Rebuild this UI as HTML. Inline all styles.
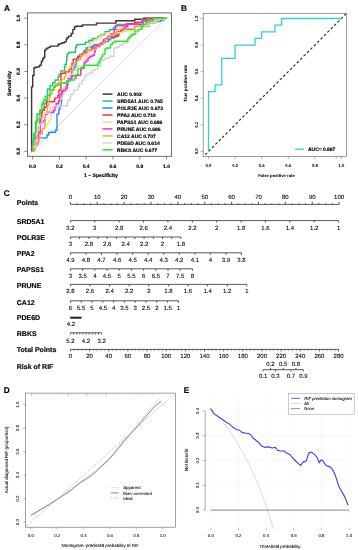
<!DOCTYPE html><html><head><meta charset="utf-8"><style>html,body{margin:0;padding:0;background:#fff;}svg{display:block;text-rendering:geometricPrecision;filter:blur(0.3px);}</style></head><body>
<svg width="358" height="550" viewBox="0 0 358 550" style="font-family:'Liberation Sans', Arial, sans-serif">
<rect width="358" height="550" fill="#fff"/>
<text x="4" y="10.9" font-size="8.2" text-anchor="start" font-weight="bold" fill="#000" stroke="#000" stroke-width="0.15">A</text>
<clipPath id="clipA"><rect x="27.5" y="13" width="144.5" height="143.3"/></clipPath>
<g clip-path="url(#clipA)">
<line x1="27.24" y1="156.62" x2="171.86" y2="12.88" stroke="#c8c8c8" stroke-width="0.7"/>
<polyline points="31.6,151.6 31.6,86.9 31.6,86.9 31.6,86.9 32.7,86.9 32.7,75.5 32.7,75.5 32.7,75.5 34,75.5 34,69.5 34,69.5 34,68 35.1,68 35.1,67.3 37.6,67.3 37.6,66.9 39.5,66.9 39.5,65.5 40.2,65.5 40.2,65.1 41.3,65.1 41.3,62.2 41.6,62.2 41.6,61.1 42.7,61.1 42.7,58.8 43.7,58.8 43.7,57.4 44.7,57.4 44.7,51.4 45,51.4 45,50.1 45.7,50.1 45.7,49.1 47,49.1 47,48.1 48.4,48.1 48.4,47.4 50.1,47.4 50.1,46.4 50.7,46.4 50.7,46.1 58.1,46.1 58.1,44.7 58.8,44.7 58.8,44 60.1,44 60.1,43.6 62,43.6 62,42.8 64.5,42.8 64.5,41.9 66.2,41.9 66.2,39.4 67,39.4 67,37.7 68.7,37.7 68.7,36.1 71.2,36.1 71.2,33.5 72.9,33.5 72.9,29.4 74.6,29.4 74.6,26.8 76.2,26.8 76.2,26.3 77.5,26.3 77.5,26.3 82.5,26.3 82.5,24.9 82.5,24.9 82.5,24.9 96.5,24.9 96.5,23.1 96.5,23.1 96.5,23.1 115.9,23.1 115.9,20.7 115.9,20.7 115.9,20.7 134.8,20.7 134.8,19.3 134.8,19.3 134.8,19.3 143.6,19.3 143.6,18.2 143.6,18.2 143.6,18.2 166.5,18.2" fill="none" stroke="#453333" stroke-width="1.4" stroke-linejoin="miter"/>
<polyline points="32.6,151.3 32.6,143 33.5,143 33.5,134 35.5,134 35.5,122 37,122 37,114 40,114 40,110 44,110 44,103.8 46.1,103.8 46.1,100 47.5,100 47.5,90 47.5,90 47.5,89 50,89 50,85.5 52.7,85.5 52.7,82.7 55,82.7 55,80 58.2,80 58.2,76.8 59.1,76.8 59.1,74.5 60.9,74.5 60.9,71.4 61.4,71.4 61.4,70.9 64.5,70.9 64.5,67.3 65,67.3 65,64.5 66.4,64.5 66.4,60.5 66.8,60.5 66.8,56.4 67.3,56.4 67.3,53.6 68.6,53.6 68.6,52.7 69.5,52.7 69.5,52.3 75.5,52.3 75.5,47.3 76.4,47.3 76.4,45 77.3,45 77.3,44.5 80,44.5 80,44.4 85.3,44.4 85.3,42.5 85.7,42.5 85.7,42.1 88.9,42.1 88.9,40.7 89.8,40.7 89.8,40.3 92.5,40.3 92.5,38.5 98,38.5 98,36.5 101,36.5 101,34.8 104.4,34.8 104.4,34.4 105,34.4 105,31.6 109.5,31.6 109.5,29.8 113.2,29.8 113.2,28 115,28 115,26.2 115.9,26.2 115.9,25.5 116.4,25.5 116.4,25.5 116.4,25.5 116.4,25.2 117.1,25.2 117.1,24.5 130,24.5 130,23.6 141.8,23.6 141.8,20 154.9,20 154.9,18.2 166.5,18.2" fill="none" stroke="#18c878" stroke-width="1.4" stroke-linejoin="miter"/>
<polyline points="32.6,151.3 32.6,148 35,148 35,143.6 38.2,143.6 38.2,137.9 39.9,137.9 39.9,137.9 47,137.9 47,135 48.5,135 48.5,132.7 49.9,132.7 49.9,132.2 55.6,132.2 55.6,130.3 57,130.3 57,117 57,117 57,114.2 58.4,114.2 58.4,113.5 58.9,113.5 58.9,109 60.1,109 60.1,105.7 61.2,105.7 61.2,101.2 61.7,101.2 61.7,94.5 62.8,94.5 62.8,91.2 63.4,91.2 63.4,88.9 64.5,88.9 64.5,87.3 66.8,87.3 66.8,80.9 68.2,80.9 68.2,78.2 70.9,78.2 70.9,75.5 71.8,75.5 71.8,71.8 72.7,71.8 72.7,70 74.1,70 74.1,67.3 75.5,67.3 75.5,64.1 76.4,64.1 76.4,59.5 77.3,59.5 77.3,58 78,58 78,57.1 79.8,57.1 79.8,54.4 82.1,54.4 82.1,53.5 84,53.5 84,50.7 86.2,50.7 86.2,48 88,48 88,47.1 91.6,47.1 91.6,46.2 93.9,46.2 93.9,44.8 97.1,44.8 97.1,44.4 100.7,44.4 100.7,43.5 102.5,43.5 102.5,42.5 105,42.5 105,41.6 108.6,41.6 108.6,39.8 110.5,39.8 110.5,38 114.1,38 114.1,35 118,35 118,31.6 121.4,31.6 121.4,29.8 124.1,29.8 124.1,29.4 134.5,29.4 134.5,25.8 140.3,25.8 140.3,23.6 146.1,23.6 146.1,22.9 154.9,22.9 154.9,21.4 160.7,21.4 160.7,20 163.6,20 163.6,18.2 166.5,18.2" fill="none" stroke="#1e90ff" stroke-width="1.4" stroke-linejoin="miter"/>
<polyline points="32.6,151.3 32.6,150.2 34.7,150.2 34.7,136.9 36.6,136.9 36.6,136 39,136 39,127.5 39.5,127.5 39.5,121.8 40.4,121.8 40.4,118.9 41.8,118.9 41.8,112.3 42.3,112.3 42.3,110.4 44.2,110.4 44.2,107.6 45.2,107.6 45.2,107.1 46.6,107.1 46.6,101.8 48,101.8 48,101.8 54.5,101.8 54.5,99.6 55,99.6 55,97.9 57.8,97.9 57.8,95.6 58.9,95.6 58.9,90 60.9,90 60.9,75.5 60.9,75.5 60.9,73.6 62.7,73.6 62.7,73.2 65,73.2 65,72.3 65.9,72.3 65.9,71.8 69.5,71.8 69.5,69.5 71.4,69.5 71.4,66.4 71.8,66.4 71.8,63.6 73.2,63.6 73.2,59.5 73.2,59.5 73.2,59.1 76.4,59.1 76.4,59.1 78,59.1 78,56.2 81.6,56.2 81.6,54.4 83.5,54.4 83.5,52.5 86.2,52.5 86.2,51.6 88,51.6 88,49.8 91.6,49.8 91.6,48 96.2,48 96.2,46.2 99.8,46.2 99.8,43.5 103.5,43.5 103.5,40.7 105.3,40.7 105.3,38.9 108,38.9 108,37 111.5,37 111.5,37 115.9,37 115.9,36.2 118.6,36.2 118.6,34.4 119.1,34.4 119.1,31.6 120.9,31.6 120.9,29.8 123.2,29.8 123.2,28 125.9,28 125.9,26.6 127.7,26.6 127.7,23.6 134.5,23.6 134.5,22.2 141.8,22.2 141.8,21.4 146.1,21.4 146.1,18.5 154.9,18.5 154.9,18.2 166.5,18.2" fill="none" stroke="#ff3030" stroke-width="1.4" stroke-linejoin="miter"/>
<polyline points="32.6,151.3 36,146 39,139 41.4,132.2 45.6,126.5 48.9,121.8 51.1,118 52.2,110.2 52.2,107.9 53.4,107.9 53.4,106.8 56.7,106.8 56.7,104.6 60.1,104.6 60.1,99 62.3,99 62.3,94.5 64,94.5 64,86.7 65.6,86.7 65.6,83.4 67.9,83.4 67.9,80 69.6,80 69.6,77.5 69.7,77.5 69.7,74.7 73.2,74.7 73.2,70.5 77.4,70.5 77.4,66.3 81.6,66.3 81.6,66.3 83.5,66.3 83.5,63.5 83.9,63.5 83.9,60 86,60 86,55.3 88,55.3 88,50.7 88.9,50.7 88.9,46.2 89.8,46.2 89.8,43.5 91.6,43.5 91.6,41.6 93.9,41.6 93.9,39.8 97.1,39.8 97.1,38 99.8,38 99.8,36.2 102.5,36.2 102.5,33.5 104.4,33.5 104.4,33.5 105,33.5 105,33.5 108.6,33.5 108.6,33.5 114.1,33.5 114.1,33 119.5,33 119.5,32.5 123.2,32.5 123.2,31.6 127.7,31.6 127.7,30.7 132.3,30.7 132.3,30.3 135,30.3 135,25.8 138.9,25.8 138.9,23.6 146.1,23.6 146.1,22.2 154.9,22.2 154.9,19.3 163.6,19.3 163.6,18.2 166.5,18.2" fill="none" stroke="#eedd82" stroke-width="1.4" stroke-linejoin="miter"/>
<polyline points="32.6,151.3 32.6,150.2 33.8,150.2 33.8,144.5 35.7,144.5 35.7,138.8 38,138.8 38,133.1 40.4,133.1 40.4,121.8 43.3,121.8 43.3,120.4 45.2,120.4 45.2,114.2 47,114.2 47,112.3 53.7,112.3 53.7,110.2 55,110.2 55,106.8 56.1,106.8 56.1,103.5 58.4,103.5 58.4,101.2 59.5,101.2 59.5,96.8 60.1,96.8 60.1,94.5 61.7,94.5 61.7,91.2 63.4,91.2 63.4,90.6 65.6,90.6 65.6,88.9 67.3,88.9 67.3,84.5 67.9,84.5 67.9,81.1 69,81.1 69,79 72,79 72,76 76,76 76,75.3 80.7,75.3 80.7,69.8 81.6,69.8 81.6,68 84.4,68 84.4,62.5 86.2,62.5 86.2,60.7 88,60.7 88,58 89.8,58 89.8,56.2 92.5,56.2 92.5,55.3 94.4,55.3 94.4,51.6 95.3,51.6 95.3,48.9 96.2,48.9 96.2,46.2 98,46.2 98,45 101,45 101,43.5 103.5,43.5 103.5,39.8 105.3,39.8 105.3,38.9 108,38.9 108,36.3 111.5,36.3 111.5,33.6 114.3,33.6 114.3,29.4 115.7,29.4 115.7,25.9 117.1,25.9 117.1,25.8 125.8,25.8 125.8,24.3 128.7,24.3 128.7,24.3 143.2,24.3 143.2,21.4 144.7,21.4 144.7,20.7 152,20.7 152,18.5 154.9,18.5 154.9,18.2 166.5,18.2" fill="none" stroke="#ff22ff" stroke-width="1.4" stroke-linejoin="miter"/>
<polyline points="32.6,151.3 32.6,151.3 34.3,151.3 34.3,145.5 37.6,145.5 37.6,141.7 39.5,141.7 39.5,134.1 42.3,134.1 42.3,128.4 44.7,128.4 44.7,123.7 45.2,123.7 45.2,113.3 47,113.3 47,109.5 47.5,109.5 47.5,105.7 48.9,105.7 48.9,100 49.4,100 49.4,97.9 50,97.9 50,94 52,94 52,90 54,90 54,85.6 55.6,85.6 55.6,84 58,84 58,83 60,83 60,80.9 61.8,80.9 61.8,79.1 64.5,79.1 64.5,76.4 65.9,76.4 65.9,73.6 66.8,73.6 66.8,70.9 68.2,70.9 68.2,69.1 70,69.1 70,67.3 71.8,67.3 71.8,65.5 73.6,65.5 73.6,63.6 75.5,63.6 75.5,61.4 77.3,61.4 77.3,61.4 78,61.4 78,59.8 80.7,59.8 80.7,55.3 83.5,55.3 83.5,53.5 87.1,53.5 87.1,50.7 91.6,50.7 91.6,49.4 96.2,49.4 96.2,47.1 99.8,47.1 99.8,44.4 103.5,44.4 103.5,42.5 105,42.5 105,39.8 106.8,39.8 106.8,37.1 110.5,37.1 110.5,35.3 114.1,35.3 114.1,33.5 116.8,33.5 116.8,29.8 118.6,29.8 118.6,29.4 120.9,29.4 120.9,28.9 135,28.9 135,26.5 143.2,26.5 143.2,26.5 149,26.5 149,22.9 150.5,22.9 150.5,22.2 157.8,22.2 157.8,19.3 163.6,19.3 163.6,18.2 166.5,18.2" fill="none" stroke="#ffa540" stroke-width="1.4" stroke-linejoin="miter"/>
<polyline points="32.6,151.3 32.6,147 35,147 35,140 37,140 37,130.3 39.5,130.3 39.5,124 42,124 42,118 44,118 44,113.3 46.1,113.3 46.1,113.3 50,113.3 50,107.4 53.4,107.4 53.4,106.3 61.2,106.3 61.2,105.7 67.3,105.7 67.3,102.3 67.9,102.3 67.9,100.1 70.1,100.1 70.1,96.8 70.7,96.8 70.7,94.5 73.5,94.5 73.5,91.2 74,91.2 74,90.1 77.9,90.1 77.9,86.7 79.1,86.7 79.1,83.9 81.8,83.9 81.8,81.1 82.4,81.1 82.4,80 84.6,80 84.6,76.2 86.2,76.2 86.2,74.4 89.8,74.4 89.8,72.5 92.5,72.5 92.5,70.3 95.3,70.3 95.3,68.9 98,68.9 98,66.2 100.7,66.2 100.7,60.3 103.5,60.3 103.5,59.8 105,59.8 105,58 109.5,58 109.5,56.2 114.1,56.2 114.1,48 116.8,48 116.8,47.1 119.5,47.1 119.5,45.3 122.3,45.3 122.3,43.5 125,43.5 125,42.5 127.7,42.5 127.7,38.9 130.5,38.9 130.5,36.2 132.3,36.2 132.3,33.5 134.1,33.5 134.1,33.5 137.4,33.5 137.4,29.4 140.3,29.4 140.3,28 143.2,28 143.2,25.8 146.1,25.8 146.1,24.3 149,24.3 149,22.9 153.4,22.9 153.4,22.2 156.3,22.2 156.3,19.3 163.6,19.3 163.6,18.2 166.5,18.2" fill="none" stroke="#d3d3d3" stroke-width="1.4" stroke-linejoin="miter"/>
<polyline points="32.6,151.3 32.6,144.5 32.8,144.5 32.8,139.8 34.3,139.8 34.3,135 35.2,135 35.2,131.3 36.2,131.3 36.2,120.8 36.6,120.8 36.6,120.4 38.5,120.4 38.5,118.9 39.9,118.9 39.9,112.3 40.4,112.3 40.4,110.4 41.8,110.4 41.8,104.7 42.3,104.7 42.3,102.8 43.7,102.8 43.7,100 45.2,100 45.2,96.3 47.5,96.3 47.5,95.6 50,95.6 50,90 53.6,90 53.6,87.3 55.5,87.3 55.5,85.5 58.2,85.5 58.2,84.5 60.9,84.5 60.9,83.2 64.5,83.2 64.5,82.7 67.3,82.7 67.3,81.4 70,81.4 70,80 74.5,80 74.5,78.2 76.4,78.2 76.4,74.4 78,74.4 78,68.9 80.7,68.9 80.7,68 83.5,68 83.5,65.3 87.1,65.3 87.1,65.3 98,65.3 98,62.5 99.8,62.5 99.8,58.9 101.6,58.9 101.6,57.1 102.5,57.1 102.5,54.4 105,54.4 105,48.9 106.8,48.9 106.8,48 110.5,48 110.5,44.4 112.3,44.4 112.3,42.5 115,42.5 115,41.2 116.8,41.2 116.8,41.2 127.7,41.2 127.7,38.9 128.6,38.9 128.6,37.1 130.5,37.1 130.5,35.3 132.3,35.3 132.3,34.4 135,34.4 135,30.9 138.9,30.9 138.9,29.4 141.8,29.4 141.8,26.5 143.2,26.5 143.2,24.3 146.1,24.3 146.1,22.2 149,22.2 149,20.7 153.4,20.7 153.4,18.5 163.6,18.5 163.6,18.2 166.5,18.2" fill="none" stroke="#22ee22" stroke-width="1.4" stroke-linejoin="miter"/>
</g>
<rect x="27.5" y="12.9" width="144" height="143.4" fill="none" stroke="#555" stroke-width="0.85"/>
<line x1="24.3" y1="151.3" x2="27.5" y2="151.3" stroke="#555" stroke-width="0.7"/>
<text x="20.3" y="151.3" font-size="5" text-anchor="middle" font-weight="bold" fill="#000" stroke="#000" stroke-width="0.15" transform="rotate(-90 20.3 151.3)">0.0</text>
<line x1="32.6" y1="156.3" x2="32.6" y2="159.5" stroke="#555" stroke-width="0.7"/>
<text x="32.6" y="167.79" font-size="5" text-anchor="middle" font-weight="bold" fill="#000" stroke="#000" stroke-width="0.15">0.0</text>
<line x1="24.3" y1="124.68" x2="27.5" y2="124.68" stroke="#555" stroke-width="0.7"/>
<text x="20.3" y="124.68" font-size="5" text-anchor="middle" font-weight="bold" fill="#000" stroke="#000" stroke-width="0.15" transform="rotate(-90 20.3 124.68)">0.2</text>
<line x1="59.38" y1="156.3" x2="59.38" y2="159.5" stroke="#555" stroke-width="0.7"/>
<text x="59.38" y="167.79" font-size="5" text-anchor="middle" font-weight="bold" fill="#000" stroke="#000" stroke-width="0.15">0.2</text>
<line x1="24.3" y1="98.06" x2="27.5" y2="98.06" stroke="#555" stroke-width="0.7"/>
<text x="20.3" y="98.06" font-size="5" text-anchor="middle" font-weight="bold" fill="#000" stroke="#000" stroke-width="0.15" transform="rotate(-90 20.3 98.06)">0.4</text>
<line x1="86.16" y1="156.3" x2="86.16" y2="159.5" stroke="#555" stroke-width="0.7"/>
<text x="86.16" y="167.79" font-size="5" text-anchor="middle" font-weight="bold" fill="#000" stroke="#000" stroke-width="0.15">0.4</text>
<line x1="24.3" y1="71.44" x2="27.5" y2="71.44" stroke="#555" stroke-width="0.7"/>
<text x="20.3" y="71.44" font-size="5" text-anchor="middle" font-weight="bold" fill="#000" stroke="#000" stroke-width="0.15" transform="rotate(-90 20.3 71.44)">0.6</text>
<line x1="112.94" y1="156.3" x2="112.94" y2="159.5" stroke="#555" stroke-width="0.7"/>
<text x="112.94" y="167.79" font-size="5" text-anchor="middle" font-weight="bold" fill="#000" stroke="#000" stroke-width="0.15">0.6</text>
<line x1="24.3" y1="44.82" x2="27.5" y2="44.82" stroke="#555" stroke-width="0.7"/>
<text x="20.3" y="44.82" font-size="5" text-anchor="middle" font-weight="bold" fill="#000" stroke="#000" stroke-width="0.15" transform="rotate(-90 20.3 44.82)">0.8</text>
<line x1="139.72" y1="156.3" x2="139.72" y2="159.5" stroke="#555" stroke-width="0.7"/>
<text x="139.72" y="167.79" font-size="5" text-anchor="middle" font-weight="bold" fill="#000" stroke="#000" stroke-width="0.15">0.8</text>
<line x1="24.3" y1="18.2" x2="27.5" y2="18.2" stroke="#555" stroke-width="0.7"/>
<text x="20.3" y="18.2" font-size="5" text-anchor="middle" font-weight="bold" fill="#000" stroke="#000" stroke-width="0.15" transform="rotate(-90 20.3 18.2)">1.0</text>
<line x1="166.5" y1="156.3" x2="166.5" y2="159.5" stroke="#555" stroke-width="0.7"/>
<text x="166.5" y="167.79" font-size="5" text-anchor="middle" font-weight="bold" fill="#000" stroke="#000" stroke-width="0.15">1.0</text>
<text x="100.9" y="177.33" font-size="5.05" text-anchor="middle" font-weight="bold" fill="#000" stroke="#000" stroke-width="0.15">1 − Specificity</text>
<text x="11.4" y="83.5" font-size="5" text-anchor="middle" font-weight="bold" fill="#000" stroke="#000" stroke-width="0.15" transform="rotate(-90 11.4 83.5)">Sensitivity</text>
<line x1="102.5" y1="94.1" x2="112.5" y2="94.1" stroke="#453333" stroke-width="1.5"/>
<text x="117.1" y="95.89" font-size="5" text-anchor="start" font-weight="bold" fill="#000" stroke="#000" stroke-width="0.15">AUC 0.902</text>
<line x1="102.5" y1="101.07" x2="112.5" y2="101.07" stroke="#18c878" stroke-width="1.5"/>
<text x="117.1" y="102.86" font-size="5" text-anchor="start" font-weight="bold" fill="#000" stroke="#000" stroke-width="0.15">SRD5A1 AUC 0.765</text>
<line x1="102.5" y1="108.04" x2="112.5" y2="108.04" stroke="#1e90ff" stroke-width="1.5"/>
<text x="117.1" y="109.83" font-size="5" text-anchor="start" font-weight="bold" fill="#000" stroke="#000" stroke-width="0.15">POLR3E AUC 0.673</text>
<line x1="102.5" y1="115.01" x2="112.5" y2="115.01" stroke="#ff3030" stroke-width="1.5"/>
<text x="117.1" y="116.8" font-size="5" text-anchor="start" font-weight="bold" fill="#000" stroke="#000" stroke-width="0.15">PPA2 AUC 0.719</text>
<line x1="102.5" y1="121.98" x2="112.5" y2="121.98" stroke="#eedd82" stroke-width="1.5"/>
<text x="117.1" y="123.77" font-size="5" text-anchor="start" font-weight="bold" fill="#000" stroke="#000" stroke-width="0.15">PAPSS1 AUC 0.686</text>
<line x1="102.5" y1="128.95" x2="112.5" y2="128.95" stroke="#ff22ff" stroke-width="1.5"/>
<text x="117.1" y="130.74" font-size="5" text-anchor="start" font-weight="bold" fill="#000" stroke="#000" stroke-width="0.15">PRUNE AUC 0.686</text>
<line x1="102.5" y1="135.92" x2="112.5" y2="135.92" stroke="#ffa540" stroke-width="1.5"/>
<text x="117.1" y="137.71" font-size="5" text-anchor="start" font-weight="bold" fill="#000" stroke="#000" stroke-width="0.15">CA12 AUC 0.707</text>
<line x1="102.5" y1="142.89" x2="112.5" y2="142.89" stroke="#d3d3d3" stroke-width="1.5"/>
<text x="117.1" y="144.68" font-size="5" text-anchor="start" font-weight="bold" fill="#000" stroke="#000" stroke-width="0.15">PDE6D AUC 0.614</text>
<line x1="102.5" y1="149.86" x2="112.5" y2="149.86" stroke="#22ee22" stroke-width="1.5"/>
<text x="117.1" y="151.65" font-size="5" text-anchor="start" font-weight="bold" fill="#000" stroke="#000" stroke-width="0.15">RBKS AUC 0.677</text>
<text x="181" y="10.7" font-size="8.2" text-anchor="start" font-weight="bold" fill="#000" stroke="#000" stroke-width="0.15">B</text>
<clipPath id="clipB"><rect x="203.2" y="13.3" width="143.3" height="143.2"/></clipPath>
<g clip-path="url(#clipB)">
<line x1="201.85" y1="158.05" x2="348.04" y2="11.85" stroke="#222" stroke-width="1.1" stroke-dasharray="2.6,2.2"/>
<polyline points="208.5,151.4 208.5,91.59 215.15,91.59 215.15,84.95 221.79,84.95 221.79,58.37 235.08,58.37 235.08,45.08 255.01,45.08 255.01,38.44 261.66,38.44 261.66,31.79 274.95,31.79 274.95,25.15 281.6,25.15 281.6,18.5 341.4,18.5" fill="none" stroke="#30d0d8" stroke-width="1.3"/>
</g>
<rect x="203.2" y="13.3" width="143.3" height="143.2" fill="none" stroke="#777" stroke-width="0.7"/>
<line x1="200.7" y1="151.4" x2="203.2" y2="151.4" stroke="#777" stroke-width="0.6"/>
<text x="197.6" y="151.4" font-size="4.2" text-anchor="middle" font-weight="bold" fill="#000" stroke="#000" stroke-width="0.03" transform="rotate(-90 197.6 151.4)">0.0</text>
<line x1="208.5" y1="156.5" x2="208.5" y2="158.9" stroke="#777" stroke-width="0.6"/>
<text x="208.5" y="166.7" font-size="4.2" text-anchor="middle" font-weight="bold" fill="#000" stroke="#000" stroke-width="0.03">0.0</text>
<line x1="200.7" y1="124.82" x2="203.2" y2="124.82" stroke="#777" stroke-width="0.6"/>
<text x="197.6" y="124.82" font-size="4.2" text-anchor="middle" font-weight="bold" fill="#000" stroke="#000" stroke-width="0.03" transform="rotate(-90 197.6 124.82)">0.2</text>
<line x1="235.08" y1="156.5" x2="235.08" y2="158.9" stroke="#777" stroke-width="0.6"/>
<text x="235.08" y="166.7" font-size="4.2" text-anchor="middle" font-weight="bold" fill="#000" stroke="#000" stroke-width="0.03">0.2</text>
<line x1="200.7" y1="98.24" x2="203.2" y2="98.24" stroke="#777" stroke-width="0.6"/>
<text x="197.6" y="98.24" font-size="4.2" text-anchor="middle" font-weight="bold" fill="#000" stroke="#000" stroke-width="0.03" transform="rotate(-90 197.6 98.24)">0.4</text>
<line x1="261.66" y1="156.5" x2="261.66" y2="158.9" stroke="#777" stroke-width="0.6"/>
<text x="261.66" y="166.7" font-size="4.2" text-anchor="middle" font-weight="bold" fill="#000" stroke="#000" stroke-width="0.03">0.4</text>
<line x1="200.7" y1="71.66" x2="203.2" y2="71.66" stroke="#777" stroke-width="0.6"/>
<text x="197.6" y="71.66" font-size="4.2" text-anchor="middle" font-weight="bold" fill="#000" stroke="#000" stroke-width="0.03" transform="rotate(-90 197.6 71.66)">0.6</text>
<line x1="288.24" y1="156.5" x2="288.24" y2="158.9" stroke="#777" stroke-width="0.6"/>
<text x="288.24" y="166.7" font-size="4.2" text-anchor="middle" font-weight="bold" fill="#000" stroke="#000" stroke-width="0.03">0.6</text>
<line x1="200.7" y1="45.08" x2="203.2" y2="45.08" stroke="#777" stroke-width="0.6"/>
<text x="197.6" y="45.08" font-size="4.2" text-anchor="middle" font-weight="bold" fill="#000" stroke="#000" stroke-width="0.03" transform="rotate(-90 197.6 45.08)">0.8</text>
<line x1="314.82" y1="156.5" x2="314.82" y2="158.9" stroke="#777" stroke-width="0.6"/>
<text x="314.82" y="166.7" font-size="4.2" text-anchor="middle" font-weight="bold" fill="#000" stroke="#000" stroke-width="0.03">0.8</text>
<line x1="200.7" y1="18.5" x2="203.2" y2="18.5" stroke="#777" stroke-width="0.6"/>
<text x="197.6" y="18.5" font-size="4.2" text-anchor="middle" font-weight="bold" fill="#000" stroke="#000" stroke-width="0.03" transform="rotate(-90 197.6 18.5)">1.0</text>
<line x1="341.4" y1="156.5" x2="341.4" y2="158.9" stroke="#777" stroke-width="0.6"/>
<text x="341.4" y="166.7" font-size="4.2" text-anchor="middle" font-weight="bold" fill="#000" stroke="#000" stroke-width="0.03">1.0</text>
<line x1="336.2" y1="156.5" x2="336.2" y2="158.9" stroke="#777" stroke-width="0.6"/>
<text x="276.5" y="176.6" font-size="4.2" text-anchor="middle" font-weight="bold" fill="#000" stroke="#000" stroke-width="0.03">False positive rate</text>
<text x="187.3" y="83.4" font-size="4.5" text-anchor="middle" font-weight="bold" fill="#000" stroke="#000" stroke-width="0.03" transform="rotate(-90 187.3 83.4)">True positive rate</text>
<line x1="295" y1="149.2" x2="304.1" y2="149.2" stroke="#30d0d8" stroke-width="1.3"/>
<text x="308" y="151.09" font-size="4.95" text-anchor="start" font-weight="bold" fill="#000" stroke="#000" stroke-width="0.15">AUC= 0.867</text>
<text x="3.7" y="195.5" font-size="8.2" text-anchor="start" font-weight="bold" fill="#000" stroke="#000" stroke-width="0.15">C</text>
<text x="16.8" y="205.01" font-size="7" text-anchor="start" font-weight="bold" fill="#000" stroke="#000" stroke-width="0.15">Points</text>
<text x="16.8" y="223.51" font-size="7" text-anchor="start" font-weight="bold" fill="#000" stroke="#000" stroke-width="0.15">SRD5A1</text>
<text x="16.8" y="240.21" font-size="7" text-anchor="start" font-weight="bold" fill="#000" stroke="#000" stroke-width="0.15">POLR3E</text>
<text x="16.8" y="256.01" font-size="7" text-anchor="start" font-weight="bold" fill="#000" stroke="#000" stroke-width="0.15">PPA2</text>
<text x="16.8" y="272.21" font-size="7" text-anchor="start" font-weight="bold" fill="#000" stroke="#000" stroke-width="0.15">PAPSS1</text>
<text x="16.8" y="288.31" font-size="7" text-anchor="start" font-weight="bold" fill="#000" stroke="#000" stroke-width="0.15">PRUNE</text>
<text x="16.8" y="304.71" font-size="7" text-anchor="start" font-weight="bold" fill="#000" stroke="#000" stroke-width="0.15">CA12</text>
<text x="16.8" y="320.11" font-size="7" text-anchor="start" font-weight="bold" fill="#000" stroke="#000" stroke-width="0.15">PDE6D</text>
<text x="16.8" y="335.91" font-size="7" text-anchor="start" font-weight="bold" fill="#000" stroke="#000" stroke-width="0.15">RBKS</text>
<text x="16.8" y="352.11" font-size="7" text-anchor="start" font-weight="bold" fill="#000" stroke="#000" stroke-width="0.15">Total Points</text>
<text x="16.8" y="368.51" font-size="7" text-anchor="start" font-weight="bold" fill="#000" stroke="#000" stroke-width="0.15">Risk of RIF</text>
<line x1="70.4" y1="204.4" x2="339.1" y2="204.4" stroke="#222" stroke-width="0.75"/>
<line x1="70.4" y1="204.4" x2="70.4" y2="201.8" stroke="#222" stroke-width="0.75"/>
<line x1="77.12" y1="204.4" x2="77.12" y2="203.2" stroke="#222" stroke-width="0.75"/>
<line x1="83.84" y1="204.4" x2="83.84" y2="203.2" stroke="#222" stroke-width="0.75"/>
<line x1="90.55" y1="204.4" x2="90.55" y2="203.2" stroke="#222" stroke-width="0.75"/>
<line x1="97.27" y1="204.4" x2="97.27" y2="201.8" stroke="#222" stroke-width="0.75"/>
<line x1="103.99" y1="204.4" x2="103.99" y2="203.2" stroke="#222" stroke-width="0.75"/>
<line x1="110.71" y1="204.4" x2="110.71" y2="203.2" stroke="#222" stroke-width="0.75"/>
<line x1="117.42" y1="204.4" x2="117.42" y2="203.2" stroke="#222" stroke-width="0.75"/>
<line x1="124.14" y1="204.4" x2="124.14" y2="201.8" stroke="#222" stroke-width="0.75"/>
<line x1="130.86" y1="204.4" x2="130.86" y2="203.2" stroke="#222" stroke-width="0.75"/>
<line x1="137.58" y1="204.4" x2="137.58" y2="203.2" stroke="#222" stroke-width="0.75"/>
<line x1="144.29" y1="204.4" x2="144.29" y2="203.2" stroke="#222" stroke-width="0.75"/>
<line x1="151.01" y1="204.4" x2="151.01" y2="201.8" stroke="#222" stroke-width="0.75"/>
<line x1="157.73" y1="204.4" x2="157.73" y2="203.2" stroke="#222" stroke-width="0.75"/>
<line x1="164.45" y1="204.4" x2="164.45" y2="203.2" stroke="#222" stroke-width="0.75"/>
<line x1="171.16" y1="204.4" x2="171.16" y2="203.2" stroke="#222" stroke-width="0.75"/>
<line x1="177.88" y1="204.4" x2="177.88" y2="201.8" stroke="#222" stroke-width="0.75"/>
<line x1="184.6" y1="204.4" x2="184.6" y2="203.2" stroke="#222" stroke-width="0.75"/>
<line x1="191.32" y1="204.4" x2="191.32" y2="203.2" stroke="#222" stroke-width="0.75"/>
<line x1="198.03" y1="204.4" x2="198.03" y2="203.2" stroke="#222" stroke-width="0.75"/>
<line x1="204.75" y1="204.4" x2="204.75" y2="201.8" stroke="#222" stroke-width="0.75"/>
<line x1="211.47" y1="204.4" x2="211.47" y2="203.2" stroke="#222" stroke-width="0.75"/>
<line x1="218.19" y1="204.4" x2="218.19" y2="203.2" stroke="#222" stroke-width="0.75"/>
<line x1="224.9" y1="204.4" x2="224.9" y2="203.2" stroke="#222" stroke-width="0.75"/>
<line x1="231.62" y1="204.4" x2="231.62" y2="201.8" stroke="#222" stroke-width="0.75"/>
<line x1="238.34" y1="204.4" x2="238.34" y2="203.2" stroke="#222" stroke-width="0.75"/>
<line x1="245.06" y1="204.4" x2="245.06" y2="203.2" stroke="#222" stroke-width="0.75"/>
<line x1="251.77" y1="204.4" x2="251.77" y2="203.2" stroke="#222" stroke-width="0.75"/>
<line x1="258.49" y1="204.4" x2="258.49" y2="201.8" stroke="#222" stroke-width="0.75"/>
<line x1="265.21" y1="204.4" x2="265.21" y2="203.2" stroke="#222" stroke-width="0.75"/>
<line x1="271.93" y1="204.4" x2="271.93" y2="203.2" stroke="#222" stroke-width="0.75"/>
<line x1="278.64" y1="204.4" x2="278.64" y2="203.2" stroke="#222" stroke-width="0.75"/>
<line x1="285.36" y1="204.4" x2="285.36" y2="201.8" stroke="#222" stroke-width="0.75"/>
<line x1="292.08" y1="204.4" x2="292.08" y2="203.2" stroke="#222" stroke-width="0.75"/>
<line x1="298.8" y1="204.4" x2="298.8" y2="203.2" stroke="#222" stroke-width="0.75"/>
<line x1="305.51" y1="204.4" x2="305.51" y2="203.2" stroke="#222" stroke-width="0.75"/>
<line x1="312.23" y1="204.4" x2="312.23" y2="201.8" stroke="#222" stroke-width="0.75"/>
<line x1="318.95" y1="204.4" x2="318.95" y2="203.2" stroke="#222" stroke-width="0.75"/>
<line x1="325.67" y1="204.4" x2="325.67" y2="203.2" stroke="#222" stroke-width="0.75"/>
<line x1="332.38" y1="204.4" x2="332.38" y2="203.2" stroke="#222" stroke-width="0.75"/>
<line x1="339.1" y1="204.4" x2="339.1" y2="201.8" stroke="#222" stroke-width="0.75"/>
<text x="70.4" y="199.25" font-size="6" text-anchor="middle" fill="#000" stroke="#000" stroke-width="0.08">0</text>
<text x="97.27" y="199.25" font-size="6" text-anchor="middle" fill="#000" stroke="#000" stroke-width="0.08">10</text>
<text x="124.14" y="199.25" font-size="6" text-anchor="middle" fill="#000" stroke="#000" stroke-width="0.08">20</text>
<text x="151.01" y="199.25" font-size="6" text-anchor="middle" fill="#000" stroke="#000" stroke-width="0.08">30</text>
<text x="177.88" y="199.25" font-size="6" text-anchor="middle" fill="#000" stroke="#000" stroke-width="0.08">40</text>
<text x="204.75" y="199.25" font-size="6" text-anchor="middle" fill="#000" stroke="#000" stroke-width="0.08">50</text>
<text x="231.62" y="199.25" font-size="6" text-anchor="middle" fill="#000" stroke="#000" stroke-width="0.08">60</text>
<text x="258.49" y="199.25" font-size="6" text-anchor="middle" fill="#000" stroke="#000" stroke-width="0.08">70</text>
<text x="285.36" y="199.25" font-size="6" text-anchor="middle" fill="#000" stroke="#000" stroke-width="0.08">80</text>
<text x="312.23" y="199.25" font-size="6" text-anchor="middle" fill="#000" stroke="#000" stroke-width="0.08">90</text>
<text x="339.1" y="199.25" font-size="6" text-anchor="middle" fill="#000" stroke="#000" stroke-width="0.08">100</text>
<line x1="70.4" y1="220.6" x2="338.6" y2="220.6" stroke="#222" stroke-width="0.75"/>
<line x1="70.4" y1="220.6" x2="70.4" y2="222.6" stroke="#222" stroke-width="0.75"/>
<text x="70.4" y="229.85" font-size="6" text-anchor="middle" fill="#000" stroke="#000" stroke-width="0.08">3.2</text>
<line x1="94.78" y1="220.6" x2="94.78" y2="222.6" stroke="#222" stroke-width="0.75"/>
<text x="94.78" y="229.85" font-size="6" text-anchor="middle" fill="#000" stroke="#000" stroke-width="0.08">3</text>
<line x1="119.16" y1="220.6" x2="119.16" y2="222.6" stroke="#222" stroke-width="0.75"/>
<text x="119.16" y="229.85" font-size="6" text-anchor="middle" fill="#000" stroke="#000" stroke-width="0.08">2.8</text>
<line x1="143.55" y1="220.6" x2="143.55" y2="222.6" stroke="#222" stroke-width="0.75"/>
<text x="143.55" y="229.85" font-size="6" text-anchor="middle" fill="#000" stroke="#000" stroke-width="0.08">2.6</text>
<line x1="167.93" y1="220.6" x2="167.93" y2="222.6" stroke="#222" stroke-width="0.75"/>
<text x="167.93" y="229.85" font-size="6" text-anchor="middle" fill="#000" stroke="#000" stroke-width="0.08">2.4</text>
<line x1="192.31" y1="220.6" x2="192.31" y2="222.6" stroke="#222" stroke-width="0.75"/>
<text x="192.31" y="229.85" font-size="6" text-anchor="middle" fill="#000" stroke="#000" stroke-width="0.08">2.2</text>
<line x1="216.69" y1="220.6" x2="216.69" y2="222.6" stroke="#222" stroke-width="0.75"/>
<text x="216.69" y="229.85" font-size="6" text-anchor="middle" fill="#000" stroke="#000" stroke-width="0.08">2</text>
<line x1="241.07" y1="220.6" x2="241.07" y2="222.6" stroke="#222" stroke-width="0.75"/>
<text x="241.07" y="229.85" font-size="6" text-anchor="middle" fill="#000" stroke="#000" stroke-width="0.08">1.8</text>
<line x1="265.45" y1="220.6" x2="265.45" y2="222.6" stroke="#222" stroke-width="0.75"/>
<text x="265.45" y="229.85" font-size="6" text-anchor="middle" fill="#000" stroke="#000" stroke-width="0.08">1.6</text>
<line x1="289.84" y1="220.6" x2="289.84" y2="222.6" stroke="#222" stroke-width="0.75"/>
<text x="289.84" y="229.85" font-size="6" text-anchor="middle" fill="#000" stroke="#000" stroke-width="0.08">1.4</text>
<line x1="314.22" y1="220.6" x2="314.22" y2="222.6" stroke="#222" stroke-width="0.75"/>
<text x="314.22" y="229.85" font-size="6" text-anchor="middle" fill="#000" stroke="#000" stroke-width="0.08">1.2</text>
<line x1="338.6" y1="220.6" x2="338.6" y2="222.6" stroke="#222" stroke-width="0.75"/>
<text x="338.6" y="229.85" font-size="6" text-anchor="middle" fill="#000" stroke="#000" stroke-width="0.08">1</text>
<line x1="70.4" y1="237" x2="180.9" y2="237" stroke="#222" stroke-width="0.75"/>
<line x1="79.61" y1="237" x2="79.61" y2="239" stroke="#222" stroke-width="0.75"/>
<line x1="98.03" y1="237" x2="98.03" y2="239" stroke="#222" stroke-width="0.75"/>
<line x1="116.44" y1="237" x2="116.44" y2="239" stroke="#222" stroke-width="0.75"/>
<line x1="134.86" y1="237" x2="134.86" y2="239" stroke="#222" stroke-width="0.75"/>
<line x1="153.28" y1="237" x2="153.28" y2="239" stroke="#222" stroke-width="0.75"/>
<line x1="171.69" y1="237" x2="171.69" y2="239" stroke="#222" stroke-width="0.75"/>
<line x1="70.4" y1="237" x2="70.4" y2="239" stroke="#222" stroke-width="0.75"/>
<text x="70.4" y="245.85" font-size="6" text-anchor="middle" fill="#000" stroke="#000" stroke-width="0.08">3</text>
<line x1="88.82" y1="237" x2="88.82" y2="239" stroke="#222" stroke-width="0.75"/>
<text x="88.82" y="245.85" font-size="6" text-anchor="middle" fill="#000" stroke="#000" stroke-width="0.08">2.8</text>
<line x1="107.23" y1="237" x2="107.23" y2="239" stroke="#222" stroke-width="0.75"/>
<text x="107.23" y="245.85" font-size="6" text-anchor="middle" fill="#000" stroke="#000" stroke-width="0.08">2.6</text>
<line x1="125.65" y1="237" x2="125.65" y2="239" stroke="#222" stroke-width="0.75"/>
<text x="125.65" y="245.85" font-size="6" text-anchor="middle" fill="#000" stroke="#000" stroke-width="0.08">2.4</text>
<line x1="144.07" y1="237" x2="144.07" y2="239" stroke="#222" stroke-width="0.75"/>
<text x="144.07" y="245.85" font-size="6" text-anchor="middle" fill="#000" stroke="#000" stroke-width="0.08">2.2</text>
<line x1="162.48" y1="237" x2="162.48" y2="239" stroke="#222" stroke-width="0.75"/>
<text x="162.48" y="245.85" font-size="6" text-anchor="middle" fill="#000" stroke="#000" stroke-width="0.08">2</text>
<line x1="180.9" y1="237" x2="180.9" y2="239" stroke="#222" stroke-width="0.75"/>
<text x="180.9" y="245.85" font-size="6" text-anchor="middle" fill="#000" stroke="#000" stroke-width="0.08">1.8</text>
<line x1="70.4" y1="252.8" x2="241.5" y2="252.8" stroke="#222" stroke-width="0.75"/>
<line x1="70.4" y1="252.8" x2="70.4" y2="254.8" stroke="#222" stroke-width="0.75"/>
<text x="70.4" y="261.55" font-size="6" text-anchor="middle" fill="#000" stroke="#000" stroke-width="0.08">4.9</text>
<line x1="85.95" y1="252.8" x2="85.95" y2="254.8" stroke="#222" stroke-width="0.75"/>
<text x="85.95" y="261.55" font-size="6" text-anchor="middle" fill="#000" stroke="#000" stroke-width="0.08">4.8</text>
<line x1="101.51" y1="252.8" x2="101.51" y2="254.8" stroke="#222" stroke-width="0.75"/>
<text x="101.51" y="261.55" font-size="6" text-anchor="middle" fill="#000" stroke="#000" stroke-width="0.08">4.7</text>
<line x1="117.06" y1="252.8" x2="117.06" y2="254.8" stroke="#222" stroke-width="0.75"/>
<text x="117.06" y="261.55" font-size="6" text-anchor="middle" fill="#000" stroke="#000" stroke-width="0.08">4.6</text>
<line x1="132.62" y1="252.8" x2="132.62" y2="254.8" stroke="#222" stroke-width="0.75"/>
<text x="132.62" y="261.55" font-size="6" text-anchor="middle" fill="#000" stroke="#000" stroke-width="0.08">4.5</text>
<line x1="148.17" y1="252.8" x2="148.17" y2="254.8" stroke="#222" stroke-width="0.75"/>
<text x="148.17" y="261.55" font-size="6" text-anchor="middle" fill="#000" stroke="#000" stroke-width="0.08">4.4</text>
<line x1="163.73" y1="252.8" x2="163.73" y2="254.8" stroke="#222" stroke-width="0.75"/>
<text x="163.73" y="261.55" font-size="6" text-anchor="middle" fill="#000" stroke="#000" stroke-width="0.08">4.3</text>
<line x1="179.28" y1="252.8" x2="179.28" y2="254.8" stroke="#222" stroke-width="0.75"/>
<text x="179.28" y="261.55" font-size="6" text-anchor="middle" fill="#000" stroke="#000" stroke-width="0.08">4.2</text>
<line x1="194.84" y1="252.8" x2="194.84" y2="254.8" stroke="#222" stroke-width="0.75"/>
<text x="194.84" y="261.55" font-size="6" text-anchor="middle" fill="#000" stroke="#000" stroke-width="0.08">4.1</text>
<line x1="210.39" y1="252.8" x2="210.39" y2="254.8" stroke="#222" stroke-width="0.75"/>
<text x="210.39" y="261.55" font-size="6" text-anchor="middle" fill="#000" stroke="#000" stroke-width="0.08">4</text>
<line x1="225.95" y1="252.8" x2="225.95" y2="254.8" stroke="#222" stroke-width="0.75"/>
<text x="225.95" y="261.55" font-size="6" text-anchor="middle" fill="#000" stroke="#000" stroke-width="0.08">3.9</text>
<line x1="241.5" y1="252.8" x2="241.5" y2="254.8" stroke="#222" stroke-width="0.75"/>
<text x="241.5" y="261.55" font-size="6" text-anchor="middle" fill="#000" stroke="#000" stroke-width="0.08">3.8</text>
<line x1="70.4" y1="268.8" x2="192.4" y2="268.8" stroke="#222" stroke-width="0.75"/>
<line x1="70.4" y1="268.8" x2="70.4" y2="270.8" stroke="#222" stroke-width="0.75"/>
<text x="70.4" y="277.75" font-size="6" text-anchor="middle" fill="#000" stroke="#000" stroke-width="0.08">3</text>
<line x1="82.6" y1="268.8" x2="82.6" y2="270.8" stroke="#222" stroke-width="0.75"/>
<text x="82.6" y="277.75" font-size="6" text-anchor="middle" fill="#000" stroke="#000" stroke-width="0.08">3.5</text>
<line x1="94.8" y1="268.8" x2="94.8" y2="270.8" stroke="#222" stroke-width="0.75"/>
<text x="94.8" y="277.75" font-size="6" text-anchor="middle" fill="#000" stroke="#000" stroke-width="0.08">4</text>
<line x1="107" y1="268.8" x2="107" y2="270.8" stroke="#222" stroke-width="0.75"/>
<text x="107" y="277.75" font-size="6" text-anchor="middle" fill="#000" stroke="#000" stroke-width="0.08">4.5</text>
<line x1="119.2" y1="268.8" x2="119.2" y2="270.8" stroke="#222" stroke-width="0.75"/>
<text x="119.2" y="277.75" font-size="6" text-anchor="middle" fill="#000" stroke="#000" stroke-width="0.08">5</text>
<line x1="131.4" y1="268.8" x2="131.4" y2="270.8" stroke="#222" stroke-width="0.75"/>
<text x="131.4" y="277.75" font-size="6" text-anchor="middle" fill="#000" stroke="#000" stroke-width="0.08">5.5</text>
<line x1="143.6" y1="268.8" x2="143.6" y2="270.8" stroke="#222" stroke-width="0.75"/>
<text x="143.6" y="277.75" font-size="6" text-anchor="middle" fill="#000" stroke="#000" stroke-width="0.08">6</text>
<line x1="155.8" y1="268.8" x2="155.8" y2="270.8" stroke="#222" stroke-width="0.75"/>
<text x="155.8" y="277.75" font-size="6" text-anchor="middle" fill="#000" stroke="#000" stroke-width="0.08">6.5</text>
<line x1="168" y1="268.8" x2="168" y2="270.8" stroke="#222" stroke-width="0.75"/>
<text x="168" y="277.75" font-size="6" text-anchor="middle" fill="#000" stroke="#000" stroke-width="0.08">7</text>
<line x1="180.2" y1="268.8" x2="180.2" y2="270.8" stroke="#222" stroke-width="0.75"/>
<text x="180.2" y="277.75" font-size="6" text-anchor="middle" fill="#000" stroke="#000" stroke-width="0.08">7.5</text>
<line x1="192.4" y1="268.8" x2="192.4" y2="270.8" stroke="#222" stroke-width="0.75"/>
<text x="192.4" y="277.75" font-size="6" text-anchor="middle" fill="#000" stroke="#000" stroke-width="0.08">8</text>
<line x1="70.4" y1="284.4" x2="246.8" y2="284.4" stroke="#222" stroke-width="0.75"/>
<line x1="70.4" y1="284.4" x2="70.4" y2="286.4" stroke="#222" stroke-width="0.75"/>
<text x="70.4" y="293.45" font-size="6" text-anchor="middle" fill="#000" stroke="#000" stroke-width="0.08">2.8</text>
<line x1="90" y1="284.4" x2="90" y2="286.4" stroke="#222" stroke-width="0.75"/>
<text x="90" y="293.45" font-size="6" text-anchor="middle" fill="#000" stroke="#000" stroke-width="0.08">2.6</text>
<line x1="109.6" y1="284.4" x2="109.6" y2="286.4" stroke="#222" stroke-width="0.75"/>
<text x="109.6" y="293.45" font-size="6" text-anchor="middle" fill="#000" stroke="#000" stroke-width="0.08">2.4</text>
<line x1="129.2" y1="284.4" x2="129.2" y2="286.4" stroke="#222" stroke-width="0.75"/>
<text x="129.2" y="293.45" font-size="6" text-anchor="middle" fill="#000" stroke="#000" stroke-width="0.08">2.2</text>
<line x1="148.8" y1="284.4" x2="148.8" y2="286.4" stroke="#222" stroke-width="0.75"/>
<text x="148.8" y="293.45" font-size="6" text-anchor="middle" fill="#000" stroke="#000" stroke-width="0.08">2</text>
<line x1="168.4" y1="284.4" x2="168.4" y2="286.4" stroke="#222" stroke-width="0.75"/>
<text x="168.4" y="293.45" font-size="6" text-anchor="middle" fill="#000" stroke="#000" stroke-width="0.08">1.8</text>
<line x1="188" y1="284.4" x2="188" y2="286.4" stroke="#222" stroke-width="0.75"/>
<text x="188" y="293.45" font-size="6" text-anchor="middle" fill="#000" stroke="#000" stroke-width="0.08">1.6</text>
<line x1="207.6" y1="284.4" x2="207.6" y2="286.4" stroke="#222" stroke-width="0.75"/>
<text x="207.6" y="293.45" font-size="6" text-anchor="middle" fill="#000" stroke="#000" stroke-width="0.08">1.4</text>
<line x1="227.2" y1="284.4" x2="227.2" y2="286.4" stroke="#222" stroke-width="0.75"/>
<text x="227.2" y="293.45" font-size="6" text-anchor="middle" fill="#000" stroke="#000" stroke-width="0.08">1.2</text>
<line x1="246.8" y1="284.4" x2="246.8" y2="286.4" stroke="#222" stroke-width="0.75"/>
<text x="246.8" y="293.45" font-size="6" text-anchor="middle" fill="#000" stroke="#000" stroke-width="0.08">1</text>
<line x1="70.4" y1="300.8" x2="178.4" y2="300.8" stroke="#222" stroke-width="0.75"/>
<line x1="70.4" y1="300.8" x2="70.4" y2="302.8" stroke="#222" stroke-width="0.75"/>
<text x="70.4" y="310.15" font-size="6" text-anchor="middle" fill="#000" stroke="#000" stroke-width="0.08">6</text>
<line x1="81.2" y1="300.8" x2="81.2" y2="302.8" stroke="#222" stroke-width="0.75"/>
<text x="81.2" y="310.15" font-size="6" text-anchor="middle" fill="#000" stroke="#000" stroke-width="0.08">5.5</text>
<line x1="92" y1="300.8" x2="92" y2="302.8" stroke="#222" stroke-width="0.75"/>
<text x="92" y="310.15" font-size="6" text-anchor="middle" fill="#000" stroke="#000" stroke-width="0.08">5</text>
<line x1="102.8" y1="300.8" x2="102.8" y2="302.8" stroke="#222" stroke-width="0.75"/>
<text x="102.8" y="310.15" font-size="6" text-anchor="middle" fill="#000" stroke="#000" stroke-width="0.08">4.5</text>
<line x1="113.6" y1="300.8" x2="113.6" y2="302.8" stroke="#222" stroke-width="0.75"/>
<text x="113.6" y="310.15" font-size="6" text-anchor="middle" fill="#000" stroke="#000" stroke-width="0.08">4</text>
<line x1="124.4" y1="300.8" x2="124.4" y2="302.8" stroke="#222" stroke-width="0.75"/>
<text x="124.4" y="310.15" font-size="6" text-anchor="middle" fill="#000" stroke="#000" stroke-width="0.08">3.5</text>
<line x1="135.2" y1="300.8" x2="135.2" y2="302.8" stroke="#222" stroke-width="0.75"/>
<text x="135.2" y="310.15" font-size="6" text-anchor="middle" fill="#000" stroke="#000" stroke-width="0.08">3</text>
<line x1="146" y1="300.8" x2="146" y2="302.8" stroke="#222" stroke-width="0.75"/>
<text x="146" y="310.15" font-size="6" text-anchor="middle" fill="#000" stroke="#000" stroke-width="0.08">2.5</text>
<line x1="156.8" y1="300.8" x2="156.8" y2="302.8" stroke="#222" stroke-width="0.75"/>
<text x="156.8" y="310.15" font-size="6" text-anchor="middle" fill="#000" stroke="#000" stroke-width="0.08">2</text>
<line x1="167.6" y1="300.8" x2="167.6" y2="302.8" stroke="#222" stroke-width="0.75"/>
<text x="167.6" y="310.15" font-size="6" text-anchor="middle" fill="#000" stroke="#000" stroke-width="0.08">1.5</text>
<line x1="178.4" y1="300.8" x2="178.4" y2="302.8" stroke="#222" stroke-width="0.75"/>
<text x="178.4" y="310.15" font-size="6" text-anchor="middle" fill="#000" stroke="#000" stroke-width="0.08">1</text>
<rect x="70.2" y="316.7" width="11.4" height="2.0" fill="#222"/>
<text x="70.8" y="326.45" font-size="6" text-anchor="middle" fill="#000" stroke="#000" stroke-width="0.08">4.2</text>
<line x1="70.4" y1="332.8" x2="101.6" y2="332.8" stroke="#222" stroke-width="0.75"/>
<line x1="70.4" y1="332.8" x2="70.4" y2="334.7" stroke="#222" stroke-width="0.6"/>
<line x1="73.52" y1="332.8" x2="73.52" y2="334.7" stroke="#222" stroke-width="0.6"/>
<line x1="76.64" y1="332.8" x2="76.64" y2="334.7" stroke="#222" stroke-width="0.6"/>
<line x1="79.76" y1="332.8" x2="79.76" y2="334.7" stroke="#222" stroke-width="0.6"/>
<line x1="82.88" y1="332.8" x2="82.88" y2="334.7" stroke="#222" stroke-width="0.6"/>
<line x1="86" y1="332.8" x2="86" y2="334.7" stroke="#222" stroke-width="0.6"/>
<line x1="89.12" y1="332.8" x2="89.12" y2="334.7" stroke="#222" stroke-width="0.6"/>
<line x1="92.24" y1="332.8" x2="92.24" y2="334.7" stroke="#222" stroke-width="0.6"/>
<line x1="95.36" y1="332.8" x2="95.36" y2="334.7" stroke="#222" stroke-width="0.6"/>
<line x1="98.48" y1="332.8" x2="98.48" y2="334.7" stroke="#222" stroke-width="0.6"/>
<line x1="101.6" y1="332.8" x2="101.6" y2="334.7" stroke="#222" stroke-width="0.6"/>
<text x="70.4" y="342.65" font-size="6" text-anchor="middle" fill="#000" stroke="#000" stroke-width="0.08">5.2</text>
<text x="86" y="342.65" font-size="6" text-anchor="middle" fill="#000" stroke="#000" stroke-width="0.08">4.2</text>
<text x="101.6" y="342.65" font-size="6" text-anchor="middle" fill="#000" stroke="#000" stroke-width="0.08">3.2</text>
<line x1="70.4" y1="349.4" x2="338.6" y2="349.4" stroke="#222" stroke-width="0.75"/>
<line x1="70.4" y1="349.4" x2="70.4" y2="351.4" stroke="#222" stroke-width="0.75"/>
<line x1="74.23" y1="349.4" x2="74.23" y2="350.5" stroke="#222" stroke-width="0.75"/>
<line x1="78.06" y1="349.4" x2="78.06" y2="350.5" stroke="#222" stroke-width="0.75"/>
<line x1="81.89" y1="349.4" x2="81.89" y2="350.5" stroke="#222" stroke-width="0.75"/>
<line x1="85.73" y1="349.4" x2="85.73" y2="350.5" stroke="#222" stroke-width="0.75"/>
<line x1="89.56" y1="349.4" x2="89.56" y2="351.4" stroke="#222" stroke-width="0.75"/>
<line x1="93.39" y1="349.4" x2="93.39" y2="350.5" stroke="#222" stroke-width="0.75"/>
<line x1="97.22" y1="349.4" x2="97.22" y2="350.5" stroke="#222" stroke-width="0.75"/>
<line x1="101.05" y1="349.4" x2="101.05" y2="350.5" stroke="#222" stroke-width="0.75"/>
<line x1="104.88" y1="349.4" x2="104.88" y2="350.5" stroke="#222" stroke-width="0.75"/>
<line x1="108.71" y1="349.4" x2="108.71" y2="351.4" stroke="#222" stroke-width="0.75"/>
<line x1="112.55" y1="349.4" x2="112.55" y2="350.5" stroke="#222" stroke-width="0.75"/>
<line x1="116.38" y1="349.4" x2="116.38" y2="350.5" stroke="#222" stroke-width="0.75"/>
<line x1="120.21" y1="349.4" x2="120.21" y2="350.5" stroke="#222" stroke-width="0.75"/>
<line x1="124.04" y1="349.4" x2="124.04" y2="350.5" stroke="#222" stroke-width="0.75"/>
<line x1="127.87" y1="349.4" x2="127.87" y2="351.4" stroke="#222" stroke-width="0.75"/>
<line x1="131.7" y1="349.4" x2="131.7" y2="350.5" stroke="#222" stroke-width="0.75"/>
<line x1="135.53" y1="349.4" x2="135.53" y2="350.5" stroke="#222" stroke-width="0.75"/>
<line x1="139.37" y1="349.4" x2="139.37" y2="350.5" stroke="#222" stroke-width="0.75"/>
<line x1="143.2" y1="349.4" x2="143.2" y2="350.5" stroke="#222" stroke-width="0.75"/>
<line x1="147.03" y1="349.4" x2="147.03" y2="351.4" stroke="#222" stroke-width="0.75"/>
<line x1="150.86" y1="349.4" x2="150.86" y2="350.5" stroke="#222" stroke-width="0.75"/>
<line x1="154.69" y1="349.4" x2="154.69" y2="350.5" stroke="#222" stroke-width="0.75"/>
<line x1="158.52" y1="349.4" x2="158.52" y2="350.5" stroke="#222" stroke-width="0.75"/>
<line x1="162.35" y1="349.4" x2="162.35" y2="350.5" stroke="#222" stroke-width="0.75"/>
<line x1="166.19" y1="349.4" x2="166.19" y2="351.4" stroke="#222" stroke-width="0.75"/>
<line x1="170.02" y1="349.4" x2="170.02" y2="350.5" stroke="#222" stroke-width="0.75"/>
<line x1="173.85" y1="349.4" x2="173.85" y2="350.5" stroke="#222" stroke-width="0.75"/>
<line x1="177.68" y1="349.4" x2="177.68" y2="350.5" stroke="#222" stroke-width="0.75"/>
<line x1="181.51" y1="349.4" x2="181.51" y2="350.5" stroke="#222" stroke-width="0.75"/>
<line x1="185.34" y1="349.4" x2="185.34" y2="351.4" stroke="#222" stroke-width="0.75"/>
<line x1="189.17" y1="349.4" x2="189.17" y2="350.5" stroke="#222" stroke-width="0.75"/>
<line x1="193.01" y1="349.4" x2="193.01" y2="350.5" stroke="#222" stroke-width="0.75"/>
<line x1="196.84" y1="349.4" x2="196.84" y2="350.5" stroke="#222" stroke-width="0.75"/>
<line x1="200.67" y1="349.4" x2="200.67" y2="350.5" stroke="#222" stroke-width="0.75"/>
<line x1="204.5" y1="349.4" x2="204.5" y2="351.4" stroke="#222" stroke-width="0.75"/>
<line x1="208.33" y1="349.4" x2="208.33" y2="350.5" stroke="#222" stroke-width="0.75"/>
<line x1="212.16" y1="349.4" x2="212.16" y2="350.5" stroke="#222" stroke-width="0.75"/>
<line x1="215.99" y1="349.4" x2="215.99" y2="350.5" stroke="#222" stroke-width="0.75"/>
<line x1="219.83" y1="349.4" x2="219.83" y2="350.5" stroke="#222" stroke-width="0.75"/>
<line x1="223.66" y1="349.4" x2="223.66" y2="351.4" stroke="#222" stroke-width="0.75"/>
<line x1="227.49" y1="349.4" x2="227.49" y2="350.5" stroke="#222" stroke-width="0.75"/>
<line x1="231.32" y1="349.4" x2="231.32" y2="350.5" stroke="#222" stroke-width="0.75"/>
<line x1="235.15" y1="349.4" x2="235.15" y2="350.5" stroke="#222" stroke-width="0.75"/>
<line x1="238.98" y1="349.4" x2="238.98" y2="350.5" stroke="#222" stroke-width="0.75"/>
<line x1="242.81" y1="349.4" x2="242.81" y2="351.4" stroke="#222" stroke-width="0.75"/>
<line x1="246.65" y1="349.4" x2="246.65" y2="350.5" stroke="#222" stroke-width="0.75"/>
<line x1="250.48" y1="349.4" x2="250.48" y2="350.5" stroke="#222" stroke-width="0.75"/>
<line x1="254.31" y1="349.4" x2="254.31" y2="350.5" stroke="#222" stroke-width="0.75"/>
<line x1="258.14" y1="349.4" x2="258.14" y2="350.5" stroke="#222" stroke-width="0.75"/>
<line x1="261.97" y1="349.4" x2="261.97" y2="351.4" stroke="#222" stroke-width="0.75"/>
<line x1="265.8" y1="349.4" x2="265.8" y2="350.5" stroke="#222" stroke-width="0.75"/>
<line x1="269.63" y1="349.4" x2="269.63" y2="350.5" stroke="#222" stroke-width="0.75"/>
<line x1="273.47" y1="349.4" x2="273.47" y2="350.5" stroke="#222" stroke-width="0.75"/>
<line x1="277.3" y1="349.4" x2="277.3" y2="350.5" stroke="#222" stroke-width="0.75"/>
<line x1="281.13" y1="349.4" x2="281.13" y2="351.4" stroke="#222" stroke-width="0.75"/>
<line x1="284.96" y1="349.4" x2="284.96" y2="350.5" stroke="#222" stroke-width="0.75"/>
<line x1="288.79" y1="349.4" x2="288.79" y2="350.5" stroke="#222" stroke-width="0.75"/>
<line x1="292.62" y1="349.4" x2="292.62" y2="350.5" stroke="#222" stroke-width="0.75"/>
<line x1="296.45" y1="349.4" x2="296.45" y2="350.5" stroke="#222" stroke-width="0.75"/>
<line x1="300.29" y1="349.4" x2="300.29" y2="351.4" stroke="#222" stroke-width="0.75"/>
<line x1="304.12" y1="349.4" x2="304.12" y2="350.5" stroke="#222" stroke-width="0.75"/>
<line x1="307.95" y1="349.4" x2="307.95" y2="350.5" stroke="#222" stroke-width="0.75"/>
<line x1="311.78" y1="349.4" x2="311.78" y2="350.5" stroke="#222" stroke-width="0.75"/>
<line x1="315.61" y1="349.4" x2="315.61" y2="350.5" stroke="#222" stroke-width="0.75"/>
<line x1="319.44" y1="349.4" x2="319.44" y2="351.4" stroke="#222" stroke-width="0.75"/>
<line x1="323.27" y1="349.4" x2="323.27" y2="350.5" stroke="#222" stroke-width="0.75"/>
<line x1="327.11" y1="349.4" x2="327.11" y2="350.5" stroke="#222" stroke-width="0.75"/>
<line x1="330.94" y1="349.4" x2="330.94" y2="350.5" stroke="#222" stroke-width="0.75"/>
<line x1="334.77" y1="349.4" x2="334.77" y2="350.5" stroke="#222" stroke-width="0.75"/>
<line x1="338.6" y1="349.4" x2="338.6" y2="351.4" stroke="#222" stroke-width="0.75"/>
<text x="70.4" y="358.25" font-size="6" text-anchor="middle" fill="#000" stroke="#000" stroke-width="0.08">0</text>
<text x="89.56" y="358.25" font-size="6" text-anchor="middle" fill="#000" stroke="#000" stroke-width="0.08">20</text>
<text x="108.71" y="358.25" font-size="6" text-anchor="middle" fill="#000" stroke="#000" stroke-width="0.08">40</text>
<text x="127.87" y="358.25" font-size="6" text-anchor="middle" fill="#000" stroke="#000" stroke-width="0.08">60</text>
<text x="147.03" y="358.25" font-size="6" text-anchor="middle" fill="#000" stroke="#000" stroke-width="0.08">80</text>
<text x="166.19" y="358.25" font-size="6" text-anchor="middle" fill="#000" stroke="#000" stroke-width="0.08">100</text>
<text x="185.34" y="358.25" font-size="6" text-anchor="middle" fill="#000" stroke="#000" stroke-width="0.08">120</text>
<text x="204.5" y="358.25" font-size="6" text-anchor="middle" fill="#000" stroke="#000" stroke-width="0.08">140</text>
<text x="223.66" y="358.25" font-size="6" text-anchor="middle" fill="#000" stroke="#000" stroke-width="0.08">160</text>
<text x="242.81" y="358.25" font-size="6" text-anchor="middle" fill="#000" stroke="#000" stroke-width="0.08">180</text>
<text x="261.97" y="358.25" font-size="6" text-anchor="middle" fill="#000" stroke="#000" stroke-width="0.08">200</text>
<text x="281.13" y="358.25" font-size="6" text-anchor="middle" fill="#000" stroke="#000" stroke-width="0.08">220</text>
<text x="300.29" y="358.25" font-size="6" text-anchor="middle" fill="#000" stroke="#000" stroke-width="0.08">240</text>
<text x="319.44" y="358.25" font-size="6" text-anchor="middle" fill="#000" stroke="#000" stroke-width="0.08">260</text>
<text x="338.6" y="358.25" font-size="6" text-anchor="middle" fill="#000" stroke="#000" stroke-width="0.08">280</text>
<line x1="263.1" y1="369.7" x2="303.3" y2="369.7" stroke="#222" stroke-width="0.75"/>
<line x1="263.1" y1="369.7" x2="263.1" y2="371.5" stroke="#222" stroke-width="0.75"/>
<text x="263.1" y="378.05" font-size="6" text-anchor="middle" fill="#000" stroke="#000" stroke-width="0.08">0.1</text>
<line x1="275.45" y1="369.7" x2="275.45" y2="371.5" stroke="#222" stroke-width="0.75"/>
<text x="275.45" y="378.05" font-size="6" text-anchor="middle" fill="#000" stroke="#000" stroke-width="0.08">0.3</text>
<line x1="290.95" y1="369.7" x2="290.95" y2="371.5" stroke="#222" stroke-width="0.75"/>
<text x="290.95" y="378.05" font-size="6" text-anchor="middle" fill="#000" stroke="#000" stroke-width="0.08">0.7</text>
<line x1="303.3" y1="369.7" x2="303.3" y2="371.5" stroke="#222" stroke-width="0.75"/>
<text x="303.3" y="378.05" font-size="6" text-anchor="middle" fill="#000" stroke="#000" stroke-width="0.08">0.9</text>
<line x1="270.52" y1="369.7" x2="270.52" y2="367.9" stroke="#222" stroke-width="0.75"/>
<text x="270.52" y="365.55" font-size="6" text-anchor="middle" fill="#000" stroke="#000" stroke-width="0.08">0.2</text>
<line x1="283.2" y1="369.7" x2="283.2" y2="367.9" stroke="#222" stroke-width="0.75"/>
<text x="283.2" y="365.55" font-size="6" text-anchor="middle" fill="#000" stroke="#000" stroke-width="0.08">0.5</text>
<line x1="295.88" y1="369.7" x2="295.88" y2="367.9" stroke="#222" stroke-width="0.75"/>
<text x="295.88" y="365.55" font-size="6" text-anchor="middle" fill="#000" stroke="#000" stroke-width="0.08">0.8</text>
<text x="3.7" y="392.9" font-size="8.2" text-anchor="start" font-weight="bold" fill="#000" stroke="#000" stroke-width="0.15">D</text>
<clipPath id="clipD"><rect x="25.5" y="393.1" width="149.8" height="134.1"/></clipPath>
<g clip-path="url(#clipD)">
<line x1="25.5" y1="527.2" x2="175.3" y2="393.1" stroke="#808080" stroke-width="0.6" stroke-dasharray="0.9,1.1"/>
<polyline points="30.9,515 40.7,509 50.4,503 58.3,498 64.1,494 70,489.8 75.9,485.2 80.8,481.5 85.7,478.2 91.5,474 95,471.3 98.9,467.6 103,463.8 107.9,459.5 114.6,451.6 123.5,440.4 132.5,430.2 141.4,419.8 148.1,411.6 154.8,403.6 159.5,398.6" fill="none" stroke="#cfcfcf" stroke-width="0.8"/>
<polyline points="30.9,515.6 40.7,509.7 50.4,503.8 58.3,498.9 64.1,495 70,491.1 75.9,486.2 80.8,482.3 85.7,479.4 91.5,475.4 95,472.5 98.9,468.8 103,465 107.9,460.9 114.6,453.1 123.5,441.9 132.5,431.9 141.4,421.8 148.1,414 154.8,406.2 161.1,401.3" fill="none" stroke="#727272" stroke-width="0.85"/>
</g>
<line x1="31" y1="393.5" x2="31" y2="396" stroke="#c8c8c8" stroke-width="0.4"/>
<line x1="33.5" y1="393.5" x2="33.5" y2="396" stroke="#c8c8c8" stroke-width="0.4"/>
<line x1="36.22" y1="393.5" x2="36.22" y2="396" stroke="#c8c8c8" stroke-width="0.4"/>
<line x1="39.67" y1="393.5" x2="39.67" y2="396" stroke="#c8c8c8" stroke-width="0.4"/>
<line x1="42.2" y1="393.5" x2="42.2" y2="396" stroke="#c8c8c8" stroke-width="0.4"/>
<line x1="44.82" y1="393.5" x2="44.82" y2="396" stroke="#c8c8c8" stroke-width="0.4"/>
<line x1="47.59" y1="393.5" x2="47.59" y2="396" stroke="#c8c8c8" stroke-width="0.4"/>
<line x1="49.56" y1="393.5" x2="49.56" y2="396" stroke="#c8c8c8" stroke-width="0.4"/>
<line x1="52.19" y1="393.5" x2="52.19" y2="396" stroke="#c8c8c8" stroke-width="0.4"/>
<line x1="55.05" y1="393.5" x2="55.05" y2="396" stroke="#c8c8c8" stroke-width="0.4"/>
<line x1="58.23" y1="393.5" x2="58.23" y2="396" stroke="#c8c8c8" stroke-width="0.4"/>
<line x1="60.02" y1="393.5" x2="60.02" y2="396" stroke="#c8c8c8" stroke-width="0.4"/>
<line x1="62.23" y1="393.5" x2="62.23" y2="396" stroke="#c8c8c8" stroke-width="0.4"/>
<line x1="64.01" y1="393.5" x2="64.01" y2="396" stroke="#c8c8c8" stroke-width="0.4"/>
<line x1="67.23" y1="393.5" x2="67.23" y2="396" stroke="#c8c8c8" stroke-width="0.4"/>
<line x1="70.22" y1="393.5" x2="70.22" y2="396" stroke="#c8c8c8" stroke-width="0.4"/>
<line x1="71.9" y1="393.5" x2="71.9" y2="396" stroke="#c8c8c8" stroke-width="0.4"/>
<line x1="75.46" y1="393.5" x2="75.46" y2="396" stroke="#c8c8c8" stroke-width="0.4"/>
<line x1="78.99" y1="393.5" x2="78.99" y2="396" stroke="#c8c8c8" stroke-width="0.4"/>
<line x1="81.9" y1="393.5" x2="81.9" y2="396" stroke="#c8c8c8" stroke-width="0.4"/>
<line x1="84.73" y1="393.5" x2="84.73" y2="396" stroke="#c8c8c8" stroke-width="0.4"/>
<line x1="86.65" y1="393.5" x2="86.65" y2="396" stroke="#c8c8c8" stroke-width="0.4"/>
<line x1="88.28" y1="393.5" x2="88.28" y2="396" stroke="#c8c8c8" stroke-width="0.4"/>
<line x1="90.93" y1="393.5" x2="90.93" y2="396" stroke="#c8c8c8" stroke-width="0.4"/>
<line x1="92.65" y1="393.5" x2="92.65" y2="396" stroke="#c8c8c8" stroke-width="0.4"/>
<line x1="94.63" y1="393.5" x2="94.63" y2="396" stroke="#c8c8c8" stroke-width="0.4"/>
<line x1="96.72" y1="393.5" x2="96.72" y2="396" stroke="#c8c8c8" stroke-width="0.4"/>
<line x1="98.38" y1="393.5" x2="98.38" y2="396" stroke="#c8c8c8" stroke-width="0.4"/>
<line x1="100.91" y1="393.5" x2="100.91" y2="396" stroke="#c8c8c8" stroke-width="0.4"/>
<line x1="103.39" y1="393.5" x2="103.39" y2="396" stroke="#c8c8c8" stroke-width="0.4"/>
<line x1="106.67" y1="393.5" x2="106.67" y2="396" stroke="#c8c8c8" stroke-width="0.4"/>
<line x1="109.31" y1="393.5" x2="109.31" y2="396" stroke="#c8c8c8" stroke-width="0.4"/>
<line x1="112.19" y1="393.5" x2="112.19" y2="396" stroke="#c8c8c8" stroke-width="0.4"/>
<line x1="114.79" y1="393.5" x2="114.79" y2="396" stroke="#c8c8c8" stroke-width="0.4"/>
<line x1="117.71" y1="393.5" x2="117.71" y2="396" stroke="#c8c8c8" stroke-width="0.4"/>
<line x1="120.23" y1="393.5" x2="120.23" y2="396" stroke="#c8c8c8" stroke-width="0.4"/>
<line x1="122.39" y1="393.5" x2="122.39" y2="396" stroke="#c8c8c8" stroke-width="0.4"/>
<line x1="125.98" y1="393.5" x2="125.98" y2="396" stroke="#c8c8c8" stroke-width="0.4"/>
<line x1="129.57" y1="393.5" x2="129.57" y2="396" stroke="#c8c8c8" stroke-width="0.4"/>
<line x1="132.85" y1="393.5" x2="132.85" y2="396" stroke="#c8c8c8" stroke-width="0.4"/>
<line x1="135.87" y1="393.5" x2="135.87" y2="396" stroke="#c8c8c8" stroke-width="0.4"/>
<line x1="138.1" y1="393.5" x2="138.1" y2="396" stroke="#c8c8c8" stroke-width="0.4"/>
<line x1="140.16" y1="393.5" x2="140.16" y2="396" stroke="#c8c8c8" stroke-width="0.4"/>
<line x1="142.34" y1="393.5" x2="142.34" y2="396" stroke="#c8c8c8" stroke-width="0.4"/>
<line x1="144.08" y1="393.5" x2="144.08" y2="396" stroke="#c8c8c8" stroke-width="0.4"/>
<line x1="147.21" y1="393.5" x2="147.21" y2="396" stroke="#c8c8c8" stroke-width="0.4"/>
<line x1="149.61" y1="393.5" x2="149.61" y2="396" stroke="#c8c8c8" stroke-width="0.4"/>
<line x1="152.9" y1="393.5" x2="152.9" y2="396" stroke="#c8c8c8" stroke-width="0.4"/>
<line x1="155.28" y1="393.5" x2="155.28" y2="396" stroke="#c8c8c8" stroke-width="0.4"/>
<line x1="158.79" y1="393.5" x2="158.79" y2="396" stroke="#c8c8c8" stroke-width="0.4"/>
<line x1="31.7" y1="393.5" x2="31.7" y2="396.2" stroke="#999" stroke-width="0.5"/>
<line x1="68.4" y1="393.5" x2="68.4" y2="396.2" stroke="#999" stroke-width="0.5"/>
<line x1="86.8" y1="393.5" x2="86.8" y2="396.2" stroke="#999" stroke-width="0.5"/>
<line x1="106" y1="393.5" x2="106" y2="396.2" stroke="#999" stroke-width="0.5"/>
<rect x="25.5" y="393.1" width="149.8" height="134.1" fill="none" stroke="#666" stroke-width="0.6"/>
<line x1="23.5" y1="522.2" x2="25.5" y2="522.2" stroke="#666" stroke-width="0.5"/>
<text x="19.5" y="522.2" font-size="4.35" text-anchor="middle" fill="#000" stroke="#000" stroke-width="0.05" transform="rotate(-90 19.5 522.2)">0.0</text>
<line x1="30.8" y1="527.2" x2="30.8" y2="529.4" stroke="#666" stroke-width="0.5"/>
<text x="30.8" y="536.56" font-size="4.35" text-anchor="middle" fill="#000" stroke="#000" stroke-width="0.05">0.0</text>
<line x1="23.5" y1="498.7" x2="25.5" y2="498.7" stroke="#666" stroke-width="0.5"/>
<text x="19.5" y="498.7" font-size="4.35" text-anchor="middle" fill="#000" stroke="#000" stroke-width="0.05" transform="rotate(-90 19.5 498.7)">0.2</text>
<line x1="57.18" y1="527.2" x2="57.18" y2="529.4" stroke="#666" stroke-width="0.5"/>
<text x="57.18" y="536.56" font-size="4.35" text-anchor="middle" fill="#000" stroke="#000" stroke-width="0.05">0.2</text>
<line x1="23.5" y1="475.2" x2="25.5" y2="475.2" stroke="#666" stroke-width="0.5"/>
<text x="19.5" y="475.2" font-size="4.35" text-anchor="middle" fill="#000" stroke="#000" stroke-width="0.05" transform="rotate(-90 19.5 475.2)">0.4</text>
<line x1="83.56" y1="527.2" x2="83.56" y2="529.4" stroke="#666" stroke-width="0.5"/>
<text x="83.56" y="536.56" font-size="4.35" text-anchor="middle" fill="#000" stroke="#000" stroke-width="0.05">0.4</text>
<line x1="23.5" y1="451.7" x2="25.5" y2="451.7" stroke="#666" stroke-width="0.5"/>
<text x="19.5" y="451.7" font-size="4.35" text-anchor="middle" fill="#000" stroke="#000" stroke-width="0.05" transform="rotate(-90 19.5 451.7)">0.6</text>
<line x1="109.94" y1="527.2" x2="109.94" y2="529.4" stroke="#666" stroke-width="0.5"/>
<text x="109.94" y="536.56" font-size="4.35" text-anchor="middle" fill="#000" stroke="#000" stroke-width="0.05">0.6</text>
<line x1="23.5" y1="428.2" x2="25.5" y2="428.2" stroke="#666" stroke-width="0.5"/>
<text x="19.5" y="428.2" font-size="4.35" text-anchor="middle" fill="#000" stroke="#000" stroke-width="0.05" transform="rotate(-90 19.5 428.2)">0.8</text>
<line x1="136.32" y1="527.2" x2="136.32" y2="529.4" stroke="#666" stroke-width="0.5"/>
<text x="136.32" y="536.56" font-size="4.35" text-anchor="middle" fill="#000" stroke="#000" stroke-width="0.05">0.8</text>
<line x1="23.5" y1="404.7" x2="25.5" y2="404.7" stroke="#666" stroke-width="0.5"/>
<text x="19.5" y="404.7" font-size="4.35" text-anchor="middle" fill="#000" stroke="#000" stroke-width="0.05" transform="rotate(-90 19.5 404.7)">1.0</text>
<line x1="162.7" y1="527.2" x2="162.7" y2="529.4" stroke="#666" stroke-width="0.5"/>
<text x="162.7" y="536.56" font-size="4.35" text-anchor="middle" fill="#000" stroke="#000" stroke-width="0.05">1.0</text>
<text x="8.5" y="459.9" font-size="4.45" text-anchor="middle" fill="#000" stroke="#000" stroke-width="0.06" transform="rotate(-90 8.5 459.9)">Actual diagnosed RIF (proportion)</text>
<text x="100.2" y="546.89" font-size="4.45" text-anchor="middle" fill="#000" stroke="#000" stroke-width="0.06">Nomogram–predicted probability of RIF</text>
<line x1="110.9" y1="487.7" x2="118.8" y2="487.7" stroke="#d8d8d8" stroke-width="0.8"/>
<line x1="110.9" y1="492.9" x2="118.8" y2="492.9" stroke="#888" stroke-width="1"/>
<line x1="110.9" y1="498.1" x2="118.8" y2="498.1" stroke="#808080" stroke-width="0.6" stroke-dasharray="0.9,1.1"/>
<text x="123.2" y="489.34" font-size="4.3" text-anchor="start" fill="#000" stroke="#000" stroke-width="0.06">Apparent</text>
<text x="123.2" y="494.74" font-size="4.3" text-anchor="start" fill="#000" stroke="#000" stroke-width="0.06">Bias–corrected</text>
<text x="123.2" y="500.04" font-size="4.3" text-anchor="start" fill="#000" stroke="#000" stroke-width="0.06">Ideal</text>
<text x="183.7" y="392.6" font-size="8.2" text-anchor="start" font-weight="bold" fill="#000" stroke="#000" stroke-width="0.15">E</text>
<line x1="182.3" y1="396" x2="182.3" y2="519.5" stroke="#f0f0f0" stroke-width="0.5"/>
<line x1="210.8" y1="393.5" x2="210.8" y2="528.5" stroke="#f1f1f1" stroke-width="0.5"/>
<line x1="238.46" y1="393.5" x2="238.46" y2="528.5" stroke="#f1f1f1" stroke-width="0.5"/>
<line x1="266.12" y1="393.5" x2="266.12" y2="528.5" stroke="#f1f1f1" stroke-width="0.5"/>
<line x1="293.78" y1="393.5" x2="293.78" y2="528.5" stroke="#f1f1f1" stroke-width="0.5"/>
<line x1="321.44" y1="393.5" x2="321.44" y2="528.5" stroke="#f1f1f1" stroke-width="0.5"/>
<line x1="349.1" y1="393.5" x2="349.1" y2="528.5" stroke="#f1f1f1" stroke-width="0.5"/>
<line x1="205.2" y1="510.1" x2="352" y2="510.1" stroke="#f1f1f1" stroke-width="0.5"/>
<line x1="205.2" y1="485.3" x2="352" y2="485.3" stroke="#f1f1f1" stroke-width="0.5"/>
<line x1="205.2" y1="460.5" x2="352" y2="460.5" stroke="#f1f1f1" stroke-width="0.5"/>
<line x1="205.2" y1="435.7" x2="352" y2="435.7" stroke="#f1f1f1" stroke-width="0.5"/>
<line x1="205.2" y1="410.9" x2="352" y2="410.9" stroke="#f1f1f1" stroke-width="0.5"/>
<clipPath id="clipE"><rect x="205.2" y="393" width="150" height="136"/></clipPath>
<g clip-path="url(#clipE)">
<polyline points="210.8,408.42 211.88,409.58 212.97,410.75 214.05,411.94 215.13,413.15 216.22,414.38 217.3,415.64 218.38,416.91 219.47,418.2 220.55,419.52 221.63,420.86 222.72,422.22 223.8,423.6 224.88,425.01 225.97,426.44 227.05,427.9 228.13,429.39 229.22,430.9 230.3,432.44 231.38,434.01 232.47,435.6 233.55,437.23 234.63,438.89 235.72,440.58 236.8,442.3 237.88,444.05 238.97,445.84 240.05,447.67 241.13,449.53 242.22,451.43 243.3,453.37 244.38,455.35 245.47,457.37 246.55,459.43 247.63,461.54 248.72,463.69 249.8,465.89 250.88,468.14 251.97,470.43 253.05,472.78 254.13,475.19 255.22,477.65 256.3,480.16 257.38,482.74 258.47,485.38 259.55,488.08 260.63,490.84 261.72,493.68 262.8,496.59 263.88,499.57 264.97,502.63 266.05,505.76 267.13,508.98 268.22,512.29 269.3,515.69 270.38,519.18 271.47,522.77 272.55,526.45 273.63,530.25 274.72,534.15 275.8,538.18" fill="none" stroke="#d0d0d0" stroke-width="0.8"/>
<line x1="210.8" y1="510.1" x2="349.1" y2="510.1" stroke="#8a8a8a" stroke-width="1"/>
<polyline points="210.6,408.5 213.9,413.9 217.3,416.1 222.9,419.7 226.2,422.3 229.6,424.1 232.9,427.3 236.3,429.5 239.6,430.2 241.9,432.4 245.2,433.1 248.6,433.5 250.8,434.6 253,438 255.3,439.8 258.6,442.5 262,446.3 265.3,447.4 268.7,446.9 272,448 275.4,447.4 277.6,450.3 281,451 284.4,451.1 286.5,452.9 289.8,454.4 292,457.2 295.3,460.5 298.5,463.8 300.7,465.5 301.8,463.8 303.5,461.6 305.1,461.6 306.6,460.1 307.9,455.1 309.4,452.4 311.6,452.4 314.4,454.4 317,457.2 319.2,462.7 321,460.1 322.5,460.1 324.7,463.8 326.8,465.9 329.7,466.6 332.3,469.2 334.5,473.6 336.6,479 338.8,486.6 342.1,492.1 344.9,497.1 348,505.2" fill="none" stroke="#4646ee" stroke-width="1.15"/>
</g>
<line x1="205.2" y1="410.9" x2="205.2" y2="510.1" stroke="#777" stroke-width="0.6"/>
<line x1="202.6" y1="510.1" x2="205.2" y2="510.1" stroke="#777" stroke-width="0.5"/>
<text x="199.3" y="510.1" font-size="4.35" text-anchor="middle" fill="#000" stroke="#000" stroke-width="0.05" transform="rotate(-90 199.3 510.1)">0.0</text>
<line x1="202.6" y1="485.3" x2="205.2" y2="485.3" stroke="#777" stroke-width="0.5"/>
<text x="199.3" y="485.3" font-size="4.35" text-anchor="middle" fill="#000" stroke="#000" stroke-width="0.05" transform="rotate(-90 199.3 485.3)">0.1</text>
<line x1="202.6" y1="460.5" x2="205.2" y2="460.5" stroke="#777" stroke-width="0.5"/>
<text x="199.3" y="460.5" font-size="4.35" text-anchor="middle" fill="#000" stroke="#000" stroke-width="0.05" transform="rotate(-90 199.3 460.5)">0.2</text>
<line x1="202.6" y1="435.7" x2="205.2" y2="435.7" stroke="#777" stroke-width="0.5"/>
<text x="199.3" y="435.7" font-size="4.35" text-anchor="middle" fill="#000" stroke="#000" stroke-width="0.05" transform="rotate(-90 199.3 435.7)">0.3</text>
<line x1="202.6" y1="410.9" x2="205.2" y2="410.9" stroke="#777" stroke-width="0.5"/>
<text x="199.3" y="410.9" font-size="4.35" text-anchor="middle" fill="#000" stroke="#000" stroke-width="0.05" transform="rotate(-90 199.3 410.9)">0.4</text>
<line x1="210.8" y1="528.2" x2="210.8" y2="530" stroke="#777" stroke-width="0.5"/>
<text x="210.8" y="536.86" font-size="4.35" text-anchor="middle" fill="#000" stroke="#000" stroke-width="0.05">0.0</text>
<line x1="238.46" y1="528.2" x2="238.46" y2="530" stroke="#777" stroke-width="0.5"/>
<text x="238.46" y="536.86" font-size="4.35" text-anchor="middle" fill="#000" stroke="#000" stroke-width="0.05">0.2</text>
<line x1="266.12" y1="528.2" x2="266.12" y2="530" stroke="#777" stroke-width="0.5"/>
<text x="266.12" y="536.86" font-size="4.35" text-anchor="middle" fill="#000" stroke="#000" stroke-width="0.05">0.4</text>
<line x1="293.78" y1="528.2" x2="293.78" y2="530" stroke="#777" stroke-width="0.5"/>
<text x="293.78" y="536.86" font-size="4.35" text-anchor="middle" fill="#000" stroke="#000" stroke-width="0.05">0.6</text>
<line x1="321.44" y1="528.2" x2="321.44" y2="530" stroke="#777" stroke-width="0.5"/>
<text x="321.44" y="536.86" font-size="4.35" text-anchor="middle" fill="#000" stroke="#000" stroke-width="0.05">0.8</text>
<line x1="349.1" y1="528.2" x2="349.1" y2="530" stroke="#777" stroke-width="0.5"/>
<text x="349.1" y="536.86" font-size="4.35" text-anchor="middle" fill="#000" stroke="#000" stroke-width="0.05">1.0</text>
<text x="280" y="547.59" font-size="4.45" text-anchor="middle" fill="#000" stroke="#000" stroke-width="0.06">Threshold probability</text>
<text x="188.5" y="459.9" font-size="4.5" text-anchor="middle" fill="#000" stroke="#000" stroke-width="0.06" transform="rotate(-90 188.5 459.9)">Net Benefit</text>
<rect x="288.5" y="393.7" width="65.7" height="20.7" fill="#fff" stroke="#999" stroke-width="0.5"/>
<line x1="291.2" y1="398.3" x2="300.1" y2="398.3" stroke="#4b4bef" stroke-width="0.9"/>
<line x1="291.2" y1="403.4" x2="300.1" y2="403.4" stroke="#d0d0d0" stroke-width="0.8"/>
<line x1="291.2" y1="408.6" x2="300.1" y2="408.6" stroke="#8a8a8a" stroke-width="0.9"/>
<text x="304.2" y="399.82" font-size="4.25" text-anchor="start" font-style="italic" fill="#000" stroke="#000" stroke-width="0.06">RIF prediction nomogram</text>
<text x="304.2" y="405.02" font-size="4.25" text-anchor="start" fill="#000" stroke="#000" stroke-width="0.06">All</text>
<text x="304.2" y="410.22" font-size="4.25" text-anchor="start" fill="#000" stroke="#000" stroke-width="0.06">None</text>
</svg></body></html>
